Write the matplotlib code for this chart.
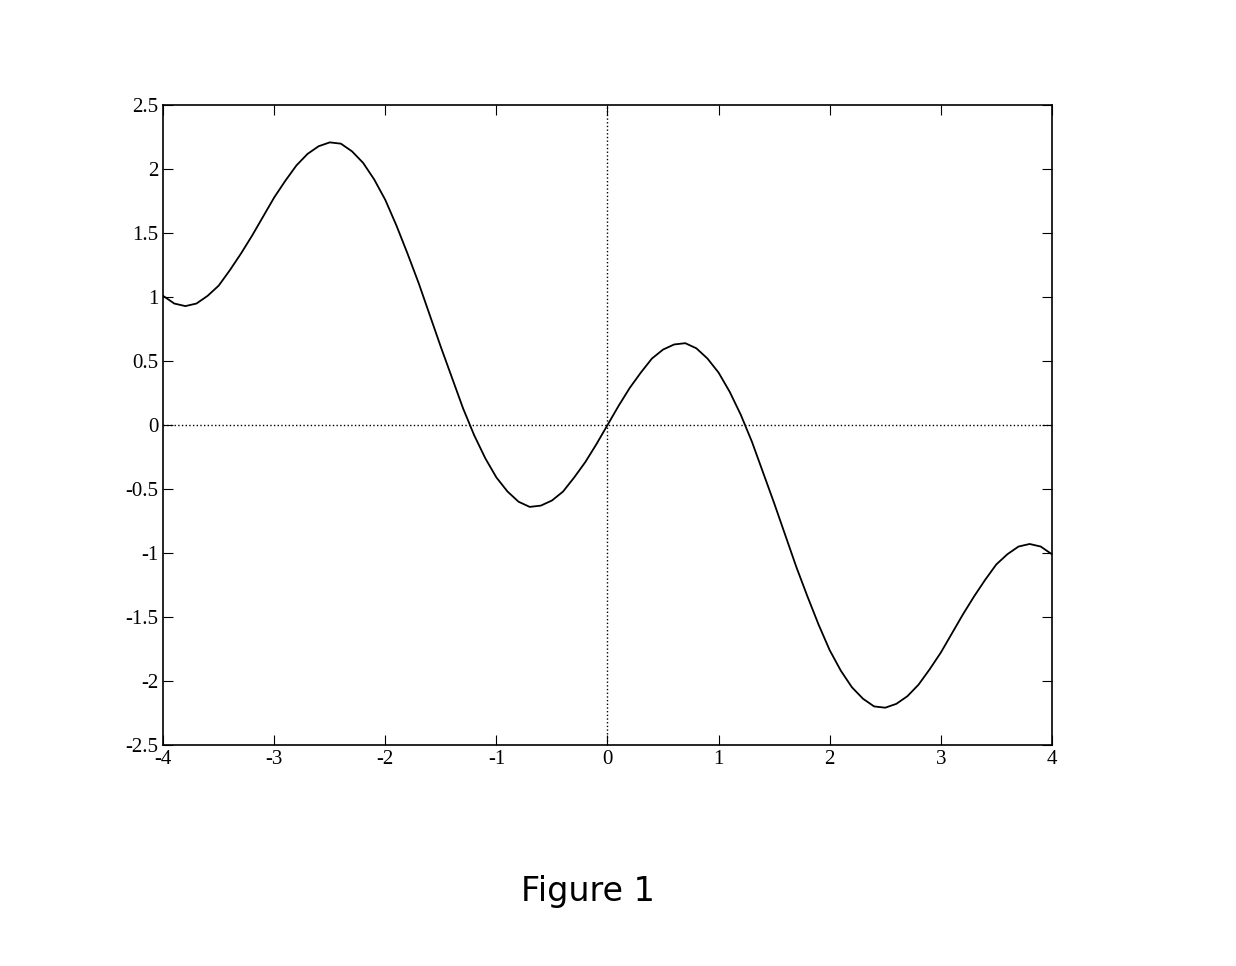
import matplotlib
matplotlib.use("Agg")
import matplotlib.pyplot as plt

pos_y = [0.00, 0.15, 0.29, 0.41, 0.52, 0.59, 0.63, 0.64, 0.60, 0.52, 0.41,
         0.26, 0.08, -0.13, -0.37, -0.61, -0.86, -1.11, -1.34, -1.56, -1.76,
         -1.92, -2.05, -2.14, -2.20, -2.21, -2.18, -2.12, -2.03, -1.91, -1.78,
         -1.63, -1.48, -1.34, -1.21, -1.09, -1.01, -0.95, -0.93, -0.95, -1.01]
x_vals = [round(-4 + 0.1 * i, 1) for i in range(81)]
y_vals = [-v for v in pos_y[::-1]] + pos_y[1:]

x_ticks = [-4, -3, -2, -1, 0, 1, 2, 3, 4]
y_ticks = [-2.5, -2, -1.5, -1, -0.5, 0, 0.5, 1, 1.5, 2, 2.5]
y_labels = ["-2.5", "-2", "-1.5", "-1", "-0.5", "0", "0.5", "1", "1.5", "2", "2.5"]

fig = plt.figure(figsize=(12.36, 9.66), dpi=100)
ax = fig.add_axes([0.132, 0.229, 0.719, 0.662])
ax.plot(x_vals, y_vals, color="black", lw=1.3)
ax.axhline(0, color="black", lw=1, ls=":")
ax.axvline(0, color="black", lw=1, ls=":")
ax.set_xlim(-4, 4)
ax.set_ylim(-2.5, 2.5)
ax.set_xticks(x_ticks)
ax.set_xticklabels([str(t) for t in x_ticks])
ax.set_yticks(y_ticks)
ax.set_yticklabels(y_labels)
ax.tick_params(direction="in", top=True, right=True, length=7, labelsize=15)
for lab in ax.get_xticklabels() + ax.get_yticklabels():
    lab.set_family("Liberation Serif")
for s in ax.spines.values():
    s.set_linewidth(1.2)
fig.text(0.476, 0.067, "Figure 1", fontsize=24, family="DejaVu Sans", ha="center")
fig.savefig("out.png")
